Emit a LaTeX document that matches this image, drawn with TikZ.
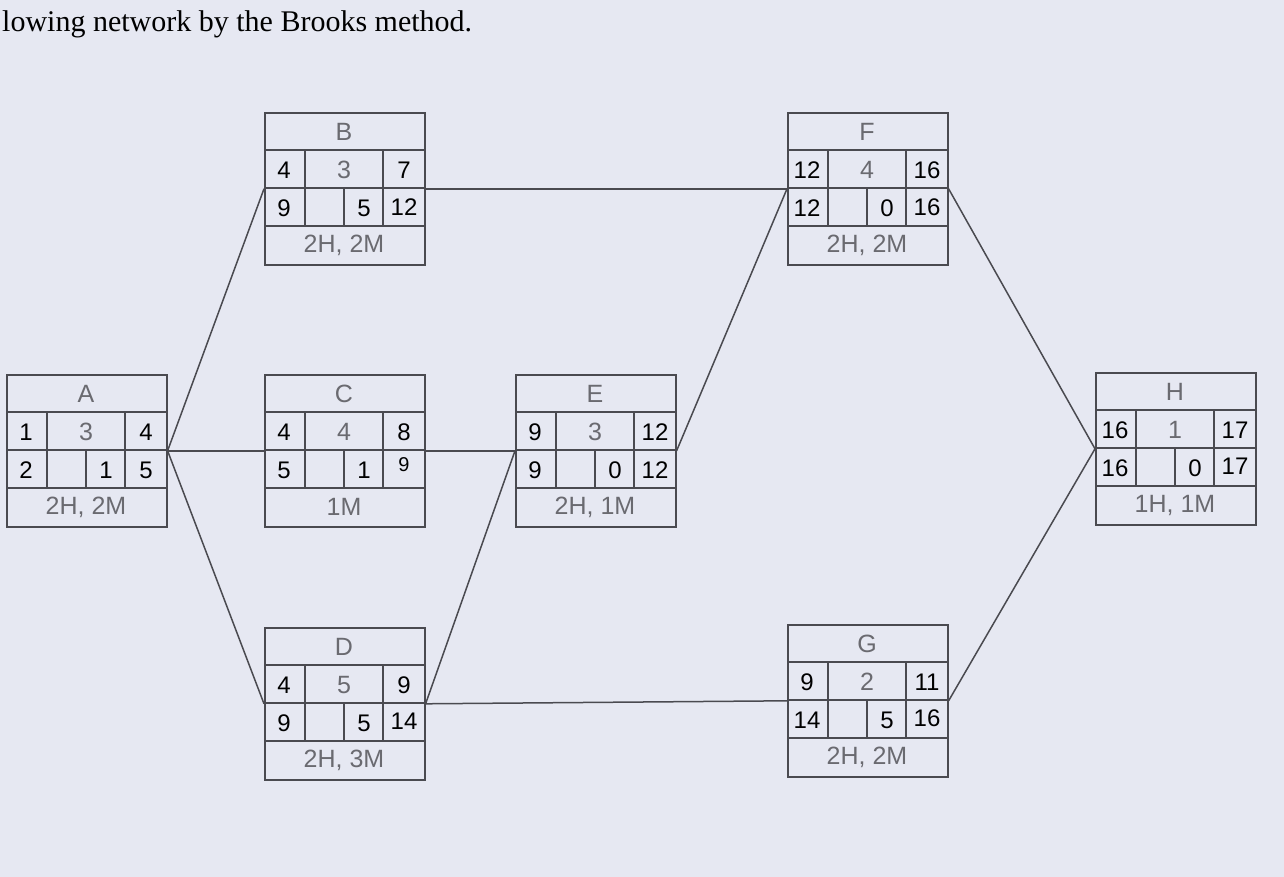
\documentclass[tikz,border=0pt]{standalone}
\usepackage{fontspec}
\setmainfont{Liberation Sans}
\newfontfamily\seriff{Liberation Serif}
\definecolor{bg}{HTML}{E6E8F2}
\definecolor{ln}{HTML}{4A4A50}
\definecolor{gt}{HTML}{6A6A70}
\tikzset{box/.style={draw=ln,line width=1.6pt,minimum width=160pt,minimum height=152pt,anchor=north west,inner sep=0},
 num/.style={font=\fontsize{24}{24}\selectfont,text=black},
 gtx/.style={font=\fontsize{25}{25}\selectfont,text=gt},
 edge/.style={draw=ln,line width=1.5pt}}
\newcommand{\actnode}[9]{%
 \node[box] (#1) at (#2,#3) {};
 \begin{scope}[shift={(#2,#3)}]
  \draw[ln,line width=1.6pt] (0,38)--(160,38) (0,76)--(160,76) (0,114)--(160,114)
    (41,38)--(41,114) (119,38)--(119,114) (80,76)--(80,114);
  \node[gtx] at (80,20) {#1};
  \node[gtx] at (80,58) {#4};
  \node[gtx] at (80,133) {#9};
 \end{scope}
 \nodenums{#2}{#3}{#5}{#6}{#7}{#8}}
\newcommand{\nodenums}[6]{%
 \begin{scope}[shift={(#1,#2)}]
  \node[num] at (20,58) {#3};
  \node[num] at (140,58) {#4};
  \node[num] at (20,96) {#5};
  \node[num] at (100,96) {#6};
 \end{scope}}
\begin{document}
\begin{tikzpicture}[x=1pt,y=-1pt]
\fill[bg] (0,0) rectangle (1284,877);
\useasboundingbox (0,0) rectangle (1284,877);
\node[anchor=west,font=\seriff\fontsize{30}{30}\selectfont,inner sep=0] (title) at (2,24) {lowing network by the Brooks method.};
\actnode{A}{6}{374}{3}{1}{4}{2}{1}{2H, 2M}
\actnode{B}{264}{112}{3}{4}{7}{9}{5}{2H, 2M}
\actnode{C}{264}{374}{4}{4}{8}{5}{1}{1M}
\actnode{D}{264}{627}{5}{4}{9}{9}{5}{2H, 3M}
\actnode{E}{515}{374}{3}{9}{12}{9}{0}{2H, 1M}
\actnode{F}{787}{112}{4}{12}{16}{12}{0}{2H, 2M}
\actnode{G}{787}{624}{2}{9}{11}{14}{5}{2H, 2M}
\actnode{H}{1095}{372}{1}{16}{17}{16}{0}{1H, 1M}
\node[num] at (146,470) {5};
\node[num,font=\fontsize{20}{20}\selectfont] at (404,465) {9};
\node[num] at (404,207) {12};
\node[num] at (404,721) {14};
\node[num] at (655,470) {12};
\node[num] at (927,207) {16};
\node[num] at (927,718) {16};
\node[num] at (1235,466) {17};
\draw[edge] (A.east)--(B.west);
\draw[edge] (A.east)--(C.west);
\draw[edge] (A.east)--(D.west);
\draw[edge] (B.east)--(F.west);
\draw[edge] (C.east)--(E.west);
\draw[edge] (D.east)--(E.west);
\draw[edge] (D.east)--(G.west);
\draw[edge] (E.east)--(F.west);
\draw[edge] (F.east)--(H.west);
\draw[edge] (G.east)--(H.west);
\end{tikzpicture}
\end{document}
